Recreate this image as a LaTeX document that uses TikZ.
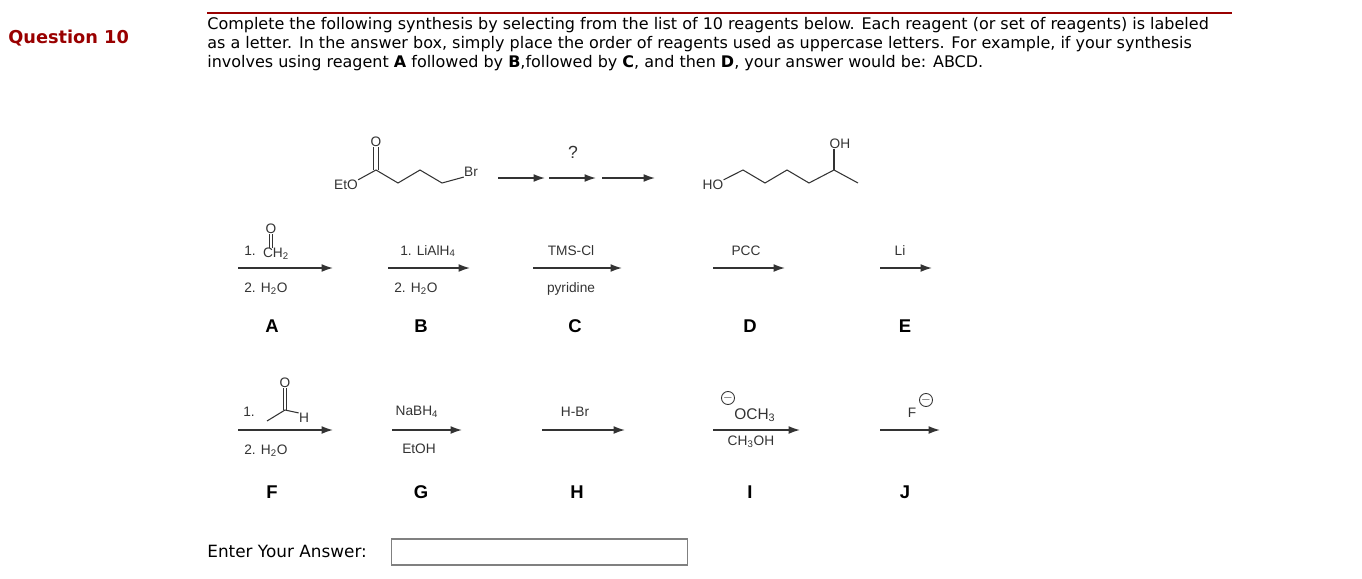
\documentclass[tikz,border=0pt]{standalone}
\usepackage{fontspec}
\setmainfont{DejaVu Sans}
\newfontfamily\arial{Liberation Sans}
\usetikzlibrary{arrows.meta}
\definecolor{qred}{HTML}{990000}
\definecolor{ink}{HTML}{333333}
\tikzset{
 qtxt/.style={anchor=west,inner sep=0pt,font=\fontsize{9.1pt}{10pt}\selectfont},
 lab/.style={inner sep=0pt,text=ink,font=\arial\fontsize{7.8pt}{8pt}\selectfont},
 let/.style={inner sep=0pt,font=\arial\bfseries\fontsize{10.5pt}{11pt}\selectfont},
 rxn/.style={draw=ink,line width=0.9pt,-{Latex[length=6.5pt,width=4.5pt]}},
 bond/.style={draw=ink,line width=0.6pt},
 neg/.style={circle,draw=ink,line width=0.5pt,minimum size=7pt,inner sep=0pt,font=\arial\fontsize{6pt}{6pt}\selectfont,text=ink}
}
\begin{document}
\begin{tikzpicture}[x=0.02cm,y=-0.02cm]
\useasboundingbox (0,0) rectangle (1362,578);
\node[anchor=west,inner sep=0pt,text=qred,font=\bfseries\fontsize{10.1pt}{11pt}\selectfont] (q) at (8,38) {Question 10};
\draw[qred,line width=1pt] (207,13) -- (1232,13);
\node[qtxt] (t1) at (207,25) {Complete the following synthesis by selecting from the list of 10 reagents below. Each reagent (or set of reagents) is labeled};
\node[qtxt] (t2) at (207,44) {as a letter. In the answer box, simply place the order of reagents used as uppercase letters. For example, if your synthesis};
\node[qtxt] (t3) at (207,63) {involves using reagent \textbf{A} followed by \textbf{B},followed by \textbf{C}, and then \textbf{D}, your answer would be: ABCD.};
% starting material
\node[lab] (eto) at (346,185) {EtO};
\node[lab] (o1) at (376,142) {O};
\node[lab] (br) at (471,172) {Br};
\coordinate (c1) at (376,170); \coordinate (c2) at (398,183);
\coordinate (c3) at (420,170); \coordinate (c4) at (442,183);
\draw[bond] (eto.north east) -- (c1) -- (c2) -- (c3) -- (c4) -- (br.south west);
\draw[bond] ([xshift=-1.3pt]c1) -- ([xshift=-1.3pt]o1.south);
\draw[bond] ([xshift=1.3pt]c1) -- ([xshift=1.3pt]o1.south);
% arrows
\coordinate (a1) at (498,178); \coordinate (a2) at (545,178);
\coordinate (a3) at (549,178); \coordinate (a4) at (596,178);
\coordinate (a5) at (602,178); \coordinate (a6) at (655,178);
\draw[rxn] (a1) -- (a2); \draw[rxn] (a3) -- (a4); \draw[rxn] (a5) -- (a6);
\node[lab,font=\arial\fontsize{10pt}{10pt}\selectfont] (qm) at (573,152) {?};
% product
\node[lab] (ho) at (713,185) {HO};
\node[lab] (oh) at (840,144) {OH};
\coordinate (p1) at (743,170); \coordinate (p2) at (765,183);
\coordinate (p3) at (787,170); \coordinate (p4) at (809,183);
\coordinate (p5) at (834,170); \coordinate (p6) at (858,183);
\draw[bond] (ho.north east) -- (p1) -- (p2) -- (p3) -- (p4) -- (p5) -- (p6);
\draw[bond] (p5) -- (oh.south -| p5);
% row 1
\coordinate (ra1) at (238,268); \coordinate (ra2) at (333,268);
\coordinate (rb1) at (388,268); \coordinate (rb2) at (470,268);
\coordinate (rc1) at (533,268); \coordinate (rc2) at (622,268);
\coordinate (rd1) at (713,268); \coordinate (rd2) at (785,268);
\coordinate (re1) at (880,268); \coordinate (re2) at (932,268);
\foreach \p in {a,b,c,d,e} \draw[rxn] (r\p1) -- (r\p2);
\node[lab] (a1t) at (250,251) {1.};
\node[lab] (ach2) at (276,254) {CH\textsubscript{2}};
\node[lab] (ao) at (271,229) {O};
\draw[bond] ([xshift=-1.1pt]ao.south) -- ([xshift=-1.1pt]ao.south |- ach2.north);
\draw[bond] ([xshift=1.1pt]ao.south) -- ([xshift=1.1pt]ao.south |- ach2.north);
\node[lab] (a2t) at (266,289) {2. H\textsubscript{2}O};
\node[lab] (b1t) at (428,251) {1. LiAlH\textsubscript{4}};
\node[lab] (b2t) at (416,289) {2. H\textsubscript{2}O};
\node[lab] (c1t) at (571,251) {TMS-Cl};
\node[lab] (c2t) at (571,289) {pyridine};
\node[lab] (d1t) at (746,251) {PCC};
\node[lab] (e1t) at (900,251) {Li};
\node[let] (A) at (272,326) {A};
\node[let] (B) at (421,326) {B};
\node[let] (C) at (575,326) {C};
\node[let] (D) at (750,326) {D};
\node[let] (E) at (905,326) {E};
% row 2
\coordinate (rf1) at (238,430); \coordinate (rf2) at (333,430);
\coordinate (rg1) at (392,430); \coordinate (rg2) at (462,430);
\coordinate (rh1) at (542,430); \coordinate (rh2) at (625,430);
\coordinate (ri1) at (713,430); \coordinate (ri2) at (800,430);
\coordinate (rj1) at (880,430); \coordinate (rj2) at (940,430);
\foreach \p in {f,g,h,i,j} \draw[rxn] (r\p1) -- (r\p2);
\node[lab] (f1t) at (249,412) {1.};
\node[lab] (fo) at (285,383) {O};
\node[lab] (fh) at (304,418) {H};
\coordinate (fm) at (267,421); \coordinate (fc) at (285,410);
\draw[bond] (fm) -- (fc) -- (fh.north west);
\draw[bond] ([xshift=-1.1pt]fc) -- ([xshift=-1.1pt]fo.south);
\draw[bond] ([xshift=1.1pt]fc) -- ([xshift=1.1pt]fo.south);
\node[lab] (f2t) at (266,451) {2. H\textsubscript{2}O};
\node[lab] (g1t) at (417,412) {NaBH\textsubscript{4}};
\node[lab] (g2t) at (419,449) {EtOH};
\node[lab] (h1t) at (575,412) {H-Br};
\node[neg] (in) at (728,398) {$-$};
\node[lab,font=\arial\fontsize{8.8pt}{9pt}\selectfont] (i1t) at (755,415) {OCH\textsubscript{3}};
\node[lab] (i2t) at (751,442) {CH\textsubscript{3}OH};
\node[lab] (jf) at (912,413) {F};
\node[neg] (jn) at (926,400) {$-$};
\node[let] (F) at (272,492) {F};
\node[let] (G) at (421,492) {G};
\node[let] (H) at (577,492) {H};
\node[let] (I) at (750,492) {I};
\node[let] (J) at (905,492) {J};
% answer
\node[anchor=west,inner sep=0pt,font=\fontsize{9.6pt}{10pt}\selectfont] (ans) at (207,551) {Enter Your Answer:};
\node[draw=gray,line width=0.6pt,anchor=west,minimum width=296*0.02cm,minimum height=26*0.02cm,inner sep=0pt] (box) at (391,552) {};
\end{tikzpicture}
\end{document}
